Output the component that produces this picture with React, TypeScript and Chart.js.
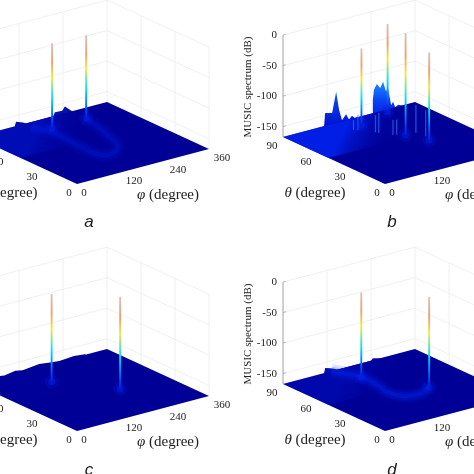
import { Chart, registerables } from 'chart.js';
import { FC, useEffect, useRef } from 'react';

Chart.register(...registerables);

const phiTicks = [0, 120, 240, 360];
const thetaTicks = [0, 30, 60, 90];
const dbTicks = [0, -50, -100, -150];
const dbFloor = -167;

// spikes a
const spikeAPhi = [167, 263];
const spikeATheta = [76, 77];
const spikeADb = [-28, -31];
const ridgeAPhi = [133, 152, 146, 157, 206, 234, 263];
const ridgeATheta = [84, 71, 42, 26, 31, 47, 77];
const edgeAPhi = [108, 112, 131, 140, 213, 218, 238, 245, 265];
const edgeADb = [-167, -160, -164, -167, -167, -161, -162, -156, -167];

// spikes b
const spikeBPhi = [180, 276, 220, 241];
const spikeBTheta = [79, 87, 53, 39];
const spikeBDb = [-41, -23, 0, -23];
const smallBPhi = [149, 155, 178, 181, 198, 205, 245, 250];
const smallBTheta = [76, 74, 66, 64, 57, 56, 52, 45];
const smallBDb = [-151, -142, -139, -134, -142, -142, -121, -124];
const edgeBPhi = [112, 115, 134, 145, 153, 161, 172, 180, 188, 196, 243, 245, 248, 256, 265, 273, 281, 286, 295, 300, 306, 314, 325];
const edgeBDb = [-167, -146, -149, -116, -147, -165, -157, -167, -162, -167, -167, -145, -129, -121, -129, -120, -137, -131, -162, -157, -167, -164, -167];

// spikes c
const spikeCPhi = [141, 232];
const spikeCTheta = [68, 37];
const spikeCDb = [-23, -16];
const edgeCPhi = [60, 80, 110, 130, 175, 200, 230, 270, 300];
const edgeCDb = [-164, -166, -163, -165, -162, -164, -166, -164, -166];

// spikes d
const spikeDPhi = [161, 241];
const spikeDTheta = [73, 39];
const spikeDDb = [-28, -19];
const ridgeDPhi = [132, 161, 159, 150, 164, 198, 241];
const ridgeDTheta = [90, 73, 58, 47, 36, 34, 39];
const edgeDPhi = [112, 115, 130, 150, 240, 245, 265];
const edgeDDb = [-167, -159, -162, -167, -167, -164, -167];

type PanelParams = {
    letter: string;
    frontX: number;
    frontY: number;
    letterX: number;
    letterY: number;
    spikePhi: number[];
    spikeTheta: number[];
    spikeDb: number[];
    smallPhi?: number[];
    smallTheta?: number[];
    smallDb?: number[];
    ridgePhi?: number[];
    ridgeTheta?: number[];
    edgePhi: number[];
    edgeDb: number[];
    edgeColor: string;
    bandAlpha: number;
    ridgeAlpha?: number;
    crestY?: number;
};

const SIZE = 237;
const SERIF = '"Liberation Serif", serif';

const Panel: FC<{ params: PanelParams; left: number; top: number }> = ({ params, left, top }) => {
    const chartRef = useRef<HTMLCanvasElement>(null);

    useEffect(() => {
        const ctx = chartRef.current?.getContext('2d');
        if (!ctx) return;
        const { frontX, frontY } = params;

        // fixed view of the 3-D box
        const project = (phi: number, theta: number, db: number) => ({
            x: frontX + (132 * phi) / 360 - (102 * theta) / 90,
            y: frontY - (35 * phi) / 360 - (47 * theta) / 90 - 0.61 * (db - dbFloor),
        });

        const line = (data: any[], color: any, width: number) => ({
            data,
            showLine: true,
            borderColor: color,
            borderWidth: width,
            pointRadius: 0,
            fill: false,
        });

        const poly = (data: any[], color: any) => ({
            data: [...data, data[0]],
            showLine: true,
            borderWidth: 0,
            borderColor: 'transparent',
            backgroundColor: color,
            pointRadius: 0,
            fill: 'shape',
        });

        const datasets: any[] = [];

        // walls
        const wall = '#ececec';
        phiTicks.forEach((p) => {
            datasets.push(line([project(p, 90, dbFloor), project(p, 90, 0)], wall, 0.8));
        });
        thetaTicks.slice(0, 3).forEach((t) => {
            datasets.push(line([project(360, t, dbFloor), project(360, t, 0)], wall, 0.8));
        });
        dbTicks.forEach((d) => {
            datasets.push(line([project(0, 90, d), project(360, 90, d), project(360, 0, d)], wall, 0.8));
        });
        datasets.push(line([project(0, 90, dbFloor), project(0, 90, 0)], '#a8a8a8', 1));
        dbTicks.forEach((d) => {
            const a = project(0, 90, d);
            datasets.push(line([a, { x: a.x + 3, y: a.y - 1 }], '#a8a8a8', 0.8));
        });

        // back edge of the surface, standing up behind the floor; its foot runs under the floor
        const edgeBase = params.edgePhi.map((p) => project(p, 85, dbFloor));
        const edgeTop = params.edgePhi.map((p, i) => project(p, 90, params.edgeDb[i]));
        let crest: any = params.edgeColor;
        if (params.crestY) {
            crest = ctx.createLinearGradient(0, params.crestY, 0, params.crestY + 45);
            crest.addColorStop(0, '#1c8cff');
            crest.addColorStop(0.45, '#0a3cf0');
            crest.addColorStop(1, '#0010c8');
        }
        datasets.push(poly([...edgeTop, ...edgeBase.reverse()], crest));

        // floor
        datasets.push(
            poly([project(0, 0, dbFloor), project(360, 0, dbFloor), project(360, 90, dbFloor), project(0, 90, dbFloor)], '#000096'),
        );

        // brighter strip near the back edge
        const bandFrom = project(180, 90, dbFloor);
        const bandTo = project(180, 50, dbFloor);
        const band = ctx.createLinearGradient(bandFrom.x, bandFrom.y, bandTo.x, bandTo.y);
        band.addColorStop(0, `rgba(0,40,255,${params.bandAlpha})`);
        band.addColorStop(1, 'rgba(0,0,150,0)');
        datasets.push(poly([project(0, 90, dbFloor), project(330, 90, dbFloor), project(330, 50, dbFloor), project(0, 50, dbFloor)], band));

        // curved ridge on the floor
        if (params.ridgePhi && params.ridgeTheta) {
            const pts = params.ridgePhi.map((p, i) => project(p, params.ridgeTheta![i], dbFloor));
            const k = params.ridgeAlpha ?? 1;
            [
                [14, 0.08],
                [9, 0.12],
                [4, 0.2],
            ].forEach(([w, a]) => {
                datasets.push({ ...line(pts, `rgba(0,40,245,${a * k})`, w), tension: 0.45 });
            });
        }

        // small spikes
        if (params.smallPhi && params.smallTheta && params.smallDb) {
            params.smallPhi.forEach((p, i) => {
                const t = params.smallTheta![i];
                datasets.push(line([project(p, t, dbFloor), project(p, t, params.smallDb![i])], 'rgba(40,120,255,0.65)', 1.3));
            });
        }

        // main spikes with jet colours by height
        params.spikePhi.forEach((p, i) => {
            const t = params.spikeTheta[i];
            const base = project(p, t, dbFloor);
            const peak = project(p, t, params.spikeDb[i]);
            datasets.push({
                data: [base],
                pointRadius: 7,
                pointBackgroundColor: 'rgba(0,30,235,0.2)',
                pointBorderWidth: 0,
            });
            datasets.push({
                data: [base],
                pointRadius: 3.5,
                pointBackgroundColor: 'rgba(0,50,255,0.35)',
                pointBorderWidth: 0,
            });
            const jet = ctx.createLinearGradient(0, base.y, 0, peak.y);
            jet.addColorStop(0, '#0018e0');
            jet.addColorStop(0.14, '#0060ff');
            jet.addColorStop(0.34, '#00dcf8');
            jet.addColorStop(0.47, '#70e8a0');
            jet.addColorStop(0.6, '#f6e640');
            jet.addColorStop(0.78, '#eaa070');
            jet.addColorStop(1, '#dcc0c0');
            datasets.push(line([base, peak], jet, 1.9));
        });

        const textPlugin = {
            id: 'panelText',
            afterDraw: (chart: any) => {
                const c = chart.ctx;
                const sx = chart.scales.x;
                const sy = chart.scales.y;
                const at = (x: number, y: number) => [sx.getPixelForValue(x), sy.getPixelForValue(y)];
                const put = (text: string, x: number, y: number, font: string, align: CanvasTextAlign = 'center') => {
                    const [px, py] = at(x, y);
                    c.font = font;
                    c.textAlign = align;
                    c.fillText(text, px, py);
                };
                c.save();
                c.fillStyle = '#222';
                c.textBaseline = 'middle';
                const tick = `11px ${SERIF}`;
                phiTicks.forEach((p) => {
                    const a = project(p, 0, dbFloor);
                    put(String(p), a.x + (p === 0 ? 7 : 13), a.y + 9, tick);
                });
                thetaTicks.forEach((t) => {
                    const a = project(0, t, dbFloor);
                    put(String(t), a.x + (t === 0 ? -8 : -11), a.y + 9, tick);
                });
                dbTicks.forEach((d) => {
                    const a = project(0, 90, d);
                    put(String(d), a.x - 6, a.y, tick, 'right');
                });
                const axisLabel = (sym: string, cx: number, cy: number) => {
                    const rest = ' (degree)';
                    c.font = `italic 15px ${SERIF}`;
                    const w1 = c.measureText(sym).width;
                    c.font = `15px ${SERIF}`;
                    const w2 = c.measureText(rest).width;
                    const start = cx - (w1 + w2) / 2;
                    put(sym, start, cy, `italic 15px ${SERIF}`, 'left');
                    put(rest, start + w1, cy, `15px ${SERIF}`, 'left');
                };
                axisLabel('θ', frontX - 70, frontY + 9);
                axisLabel('φ', frontX + 91, frontY + 11);

                const [zx, zy] = at(frontX - 137, frontY - 97);
                c.save();
                c.translate(zx, zy);
                c.rotate(-Math.PI / 2);
                c.font = `11px ${SERIF}`;
                c.textAlign = 'center';
                c.fillText('MUSIC spectrum (dB)', 0, 0);
                c.restore();

                put(params.letter, params.letterX, params.letterY, 'italic 17px "Liberation Sans", sans-serif');
                c.restore();
            },
        };

        const chart = new Chart(ctx, {
            type: 'scatter',
            data: { datasets: datasets.reverse() },
            options: {
                responsive: false,
                animation: false,
                layout: { padding: 0, autoPadding: false },
                scales: {
                    x: { type: 'linear', display: false, min: 0, max: SIZE },
                    y: { type: 'linear', display: false, min: 0, max: SIZE, reverse: true },
                },
                plugins: { legend: { display: false }, tooltip: { enabled: false } },
            },
            plugins: [textPlugin],
        });

        return () => {
            chart.destroy();
        };
    }, [params]);

    return (
        <canvas
            ref={chartRef}
            width={SIZE}
            height={SIZE}
            style={{ position: 'absolute', left, top, width: SIZE, height: SIZE, filter: 'blur(0.4px)' }}
        />
    );
};

const panelA: PanelParams = {
    letter: 'a', frontX: 77, frontY: 184, letterX: 89, letterY: 222,
    spikePhi: spikeAPhi, spikeTheta: spikeATheta, spikeDb: spikeADb,
    ridgePhi: ridgeAPhi, ridgeTheta: ridgeATheta, ridgeAlpha: 1,
    edgePhi: edgeAPhi, edgeDb: edgeADb, edgeColor: '#0410a8', bandAlpha: 0.3,
};
const panelB: PanelParams = {
    letter: 'b', frontX: 148, frontY: 184, letterX: 155, letterY: 222,
    spikePhi: spikeBPhi, spikeTheta: spikeBTheta, spikeDb: spikeBDb,
    smallPhi: smallBPhi, smallTheta: smallBTheta, smallDb: smallBDb,
    edgePhi: edgeBPhi, edgeDb: edgeBDb, edgeColor: '#0a3cf0', bandAlpha: 0.75, crestY: 82,
};
const panelC: PanelParams = {
    letter: 'c', frontX: 77, frontY: 194, letterX: 89, letterY: 233,
    spikePhi: spikeCPhi, spikeTheta: spikeCTheta, spikeDb: spikeCDb,
    edgePhi: edgeCPhi, edgeDb: edgeCDb, edgeColor: '#000096', bandAlpha: 0.03,
};
const panelD: PanelParams = {
    letter: 'd', frontX: 148, frontY: 194, letterX: 155, letterY: 233,
    spikePhi: spikeDPhi, spikeTheta: spikeDTheta, spikeDb: spikeDDb,
    ridgePhi: ridgeDPhi, ridgeTheta: ridgeDTheta, ridgeAlpha: 1.6,
    edgePhi: edgeDPhi, edgeDb: edgeDDb, edgeColor: '#0410b0', bandAlpha: 0.2,
};

export default function App() {
    useEffect(() => {
        document.body.style.margin = '0';
    }, []);

    return (
        <div style={{ position: 'relative', width: 474, height: 474, overflow: 'hidden', background: '#fff' }}>
            <Panel params={panelA} left={0} top={0} />
            <Panel params={panelB} left={237} top={0} />
            <Panel params={panelC} left={0} top={237} />
            <Panel params={panelD} left={237} top={237} />
        </div>
    );
}
